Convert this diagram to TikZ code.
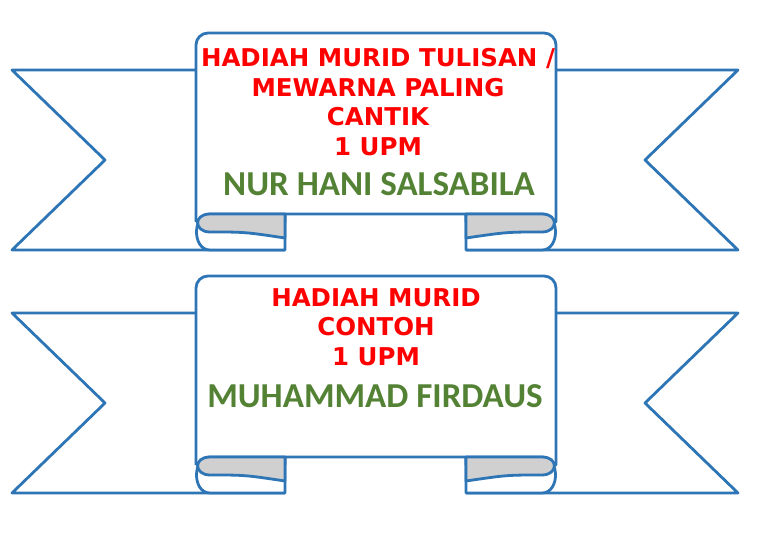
\documentclass[tikz,border=0pt]{standalone}
\usepackage{fontspec}
\setmainfont{DejaVu Sans}
\newfontfamily\calib{Carlito}
\definecolor{rb}{RGB}{46,117,182}
\definecolor{gr}{RGB}{84,130,53}
\definecolor{fg}{RGB}{208,208,208}
\tikzset{ln/.style={draw=rb,line width=2.8pt,line join=round},
red/.style={text=red,font=\bfseries\fontsize{24.5}{29.5}\selectfont,align=center},
grn/.style={text=gr,font=\calib\bfseries\fontsize{35}{40}\selectfont}}
\newcommand\myribbon[1]{%
\begin{scope}[yshift=#1]
\draw[ln,fill=white] (196,70) -- (12,70) -- (105,160) -- (12,250) -- (285,250);
\draw[ln,fill=white] (556,70) -- (738,70) -- (645,160) -- (738,250) -- (466,250);
\draw[ln,fill=white,rounded corners=12pt] (196,222) -- (196,33) -- (556,33) -- (556,222) [sharp corners]-- (556,222) -- (466,222) -- (466,214) -- (285,214) -- (285,222) -- (196,222);
\draw[ln,fill=white] (285,214) -- (210,214) .. controls (192,214) and (192,250) .. (210,250) -- (285,250) -- cycle;
\draw[ln,fill=fg] (285,214) -- (210,214) .. controls (193,214) and (194,232) .. (210,232) .. controls (245,232) .. (285,238) -- cycle;
\draw[ln,fill=white] (466,214) -- (542,214) .. controls (560,214) and (560,250) .. (542,250) -- (466,250) -- cycle;
\draw[ln,fill=fg] (466,214) -- (542,214) .. controls (559,214) and (558,232) .. (542,232) .. controls (507,232) .. (466,238) -- cycle;
\end{scope}}
\begin{document}
\begin{tikzpicture}[x=1pt,y=-1pt]
\useasboundingbox (0,0) rectangle (768,543);
\myribbon{0pt}
\myribbon{-243pt}
\node[red] (t1) at (378,102) {HADIAH MURID TULISAN /\\MEWARNA PALING\\CANTIK\\1 UPM};
\node[grn] (n1) at (379,184) {NUR HANI SALSABILA};
\node[red] (t2) at (376,327) {HADIAH MURID\\CONTOH\\1 UPM};
\node[grn] (n2) at (375,396) {MUHAMMAD FIRDAUS};
\end{tikzpicture}
\end{document}
